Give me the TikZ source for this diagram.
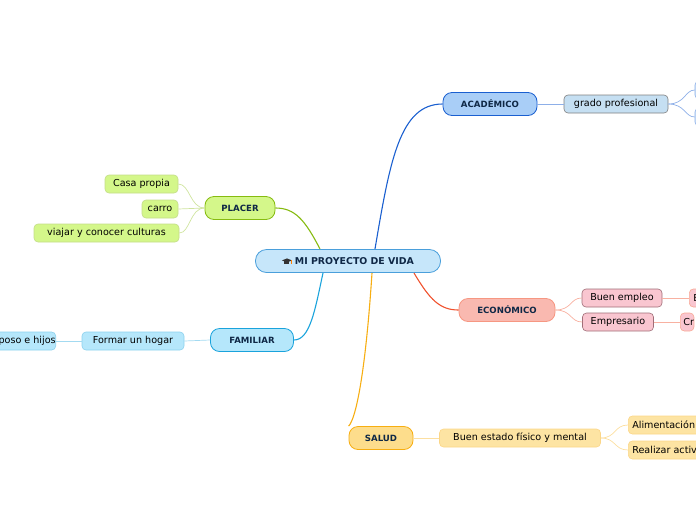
\documentclass[tikz,border=0pt]{standalone}
\usepackage{fontspec}
\setmainfont{DejaVu Sans}
\begin{document}
\begin{tikzpicture}[x=1pt,y=-1pt,
 base/.style={rounded corners=4pt,inner sep=0pt,minimum height=18pt,font=\fontsize{9.6}{11}\selectfont,text=black,line width=0.6pt},
 main/.style={rounded corners=9pt,inner sep=0pt,minimum height=23pt,font=\fontsize{8.6}{10}\selectfont\bfseries,text={rgb,255:red,15;green,40;blue,70},line width=0.8pt},
 lk/.style={line width=0.7pt}]
\useasboundingbox (0,0) rectangle (696,520);
\clip (0,0) rectangle (696,520);
\definecolor{acab}{HTML}{1A5FD0}\definecolor{acaf}{HTML}{A9CEF7}
\definecolor{ecob}{HTML}{F0522E}\definecolor{ecof}{HTML}{F9B9B0}
\definecolor{salb}{HTML}{F7AE12}\definecolor{salf}{HTML}{FDDD8C}
\definecolor{plab}{HTML}{86BB10}\definecolor{plaf}{HTML}{D4F78A}
\definecolor{famb}{HTML}{1AA3DC}\definecolor{famf}{HTML}{B5E7FB}
\definecolor{cenb}{HTML}{4A9FDB}\definecolor{cenf}{HTML}{C6E6FA}
\definecolor{gpf}{HTML}{C5DFF2}\definecolor{pkf}{HTML}{F9C6D0}\definecolor{pkb}{HTML}{A06E78}
% center
\node[main,draw=cenb,fill=cenf,minimum width=185pt,rounded corners=11pt,font=\fontsize{9.4}{11}\selectfont\bfseries] (c) at (348,261) {\tikz[baseline=0pt,x=1pt,y=1pt,sharp corners,line width=0pt]{\fill[black!80] (0,4)--(5,6)--(10,4)--(5,2)--cycle;\fill[black!80] (2.5,3) rectangle (7.5,0);\fill[orange] (9,4) rectangle (9.8,0.5);}\hspace{3pt}MI PROYECTO DE VIDA};
% main
\node[main,draw=acab,fill=acaf,minimum width=94pt] (aca) at (490,104) {ACADÉMICO};
\node[main,draw=ecob!60,fill=ecof,minimum width=96pt] (eco) at (507,310) {ECONÓMICO};
\node[main,draw=salb,fill=salf,minimum width=64pt] (sal) at (381,438) {SALUD};
\node[main,draw=plab,fill=plaf,minimum width=70pt] (pla) at (240,208) {PLACER};
\node[main,draw=famb,fill=famf,minimum width=83pt] (fam) at (252,340) {FAMILIAR};
\draw[acab,line width=1.1pt] (375,249) .. controls (390,160) and (400,104) .. (aca.west);
\draw[ecob,line width=1.1pt] (414,273) .. controls (430,300) and (440,310) .. (eco.west);
\draw[salb,line width=1.1pt] (372,273) .. controls (365,380) and (355,420) .. (sal.north west);
\draw[plab,line width=1.1pt] (320,249) .. controls (305,220) and (295,208) .. (pla.east);
\draw[famb,line width=1.1pt] (323,273) .. controls (315,310) and (310,340) .. (fam.east);
% academico
\node[base,draw=gray,fill=gpf,minimum width=104pt] (gp) at (616,104) {grado profesional};
\node[base,draw=acab!50,fill=acaf!50,minimum width=30pt] (g1) at (710,90) {};
\node[base,draw=acab!50,fill=acaf!50,minimum width=30pt] (g2) at (710,117) {};
\draw[acab!50,lk] (aca.east) -- (gp.west);
\draw[acab!50,lk] (gp.east) .. controls (685,104) and (685,90) .. (g1.west);
\draw[acab!50,lk] (gp.east) .. controls (685,104) and (685,117) .. (g2.west);
% economico
\node[base,draw=pkb,fill=pkf,minimum width=80pt] (be) at (622,298) {Buen empleo};
\node[base,draw=pkb,fill=pkf,minimum width=71pt] (em) at (618,322) {Empresario};
\node[base,draw=ecob!50,fill=pkf,anchor=west] (be2) at (689,298) {\hspace{4pt}B\hspace{25pt}};
\node[base,draw=ecob!50,fill=pkf,anchor=west] (em2) at (680,322) {\hspace{3pt}Cr\hspace{25pt}};
\draw[ecob!45,lk] (eco.east) .. controls (572,310) and (570,298) .. (be.west);
\draw[ecob!45,lk] (eco.east) .. controls (572,310) and (570,322) .. (em.west);
\draw[ecob!45,lk] (be.east) -- (be2.west);
\draw[ecob!45,lk] (em.east) -- (em2.west);
% salud
\node[base,draw=salb!50,fill=salf!80,minimum width=161pt] (bf) at (520,438) {Buen estado físico y mental};
\node[base,draw=salb!50,fill=salf!80,anchor=west] (al) at (628,425) {\hspace{4pt}Alimentación saludable};
\node[base,draw=salb!50,fill=salf!80,anchor=west] (ra) at (628,450) {\hspace{4pt}Realizar actividad física};
\draw[salb!40,lk] (sal.east) -- (bf.west);
\draw[salb!40,lk] (bf.east) .. controls (616,438) and (614,425) .. (al.west);
\draw[salb!40,lk] (bf.east) .. controls (616,438) and (614,450) .. (ra.west);
% placer
\node[base,draw=plab!50,fill=plaf,minimum width=73pt] (cp) at (141.5,184) {Casa propia};
\node[base,draw=plab!50,fill=plaf,minimum width=36pt] (ca) at (160,209) {carro};
\node[base,draw=plab!50,fill=plaf,minimum width=145pt] (vc) at (106.5,233) {viajar y conocer culturas};
\draw[plab!40,lk] (pla.west) .. controls (190,208) and (190,184) .. (cp.east);
\draw[plab!40,lk] (pla.west) -- (ca.east);
\draw[plab!40,lk] (pla.west) .. controls (190,208) and (190,233) .. (vc.east);
% familiar
\node[base,draw=famb!50,fill=famf,minimum width=102pt] (fh) at (133,341) {Formar un hogar};
\node[base,draw=famb!50,fill=famf,anchor=east] (eh) at (56,341) {Esposo e hijos\hspace{4pt}};
\draw[famb!40,lk] (fam.west) -- (fh.east);
\draw[famb!40,lk] (fh.west) -- (eh.east);
\end{tikzpicture}
\end{document}
